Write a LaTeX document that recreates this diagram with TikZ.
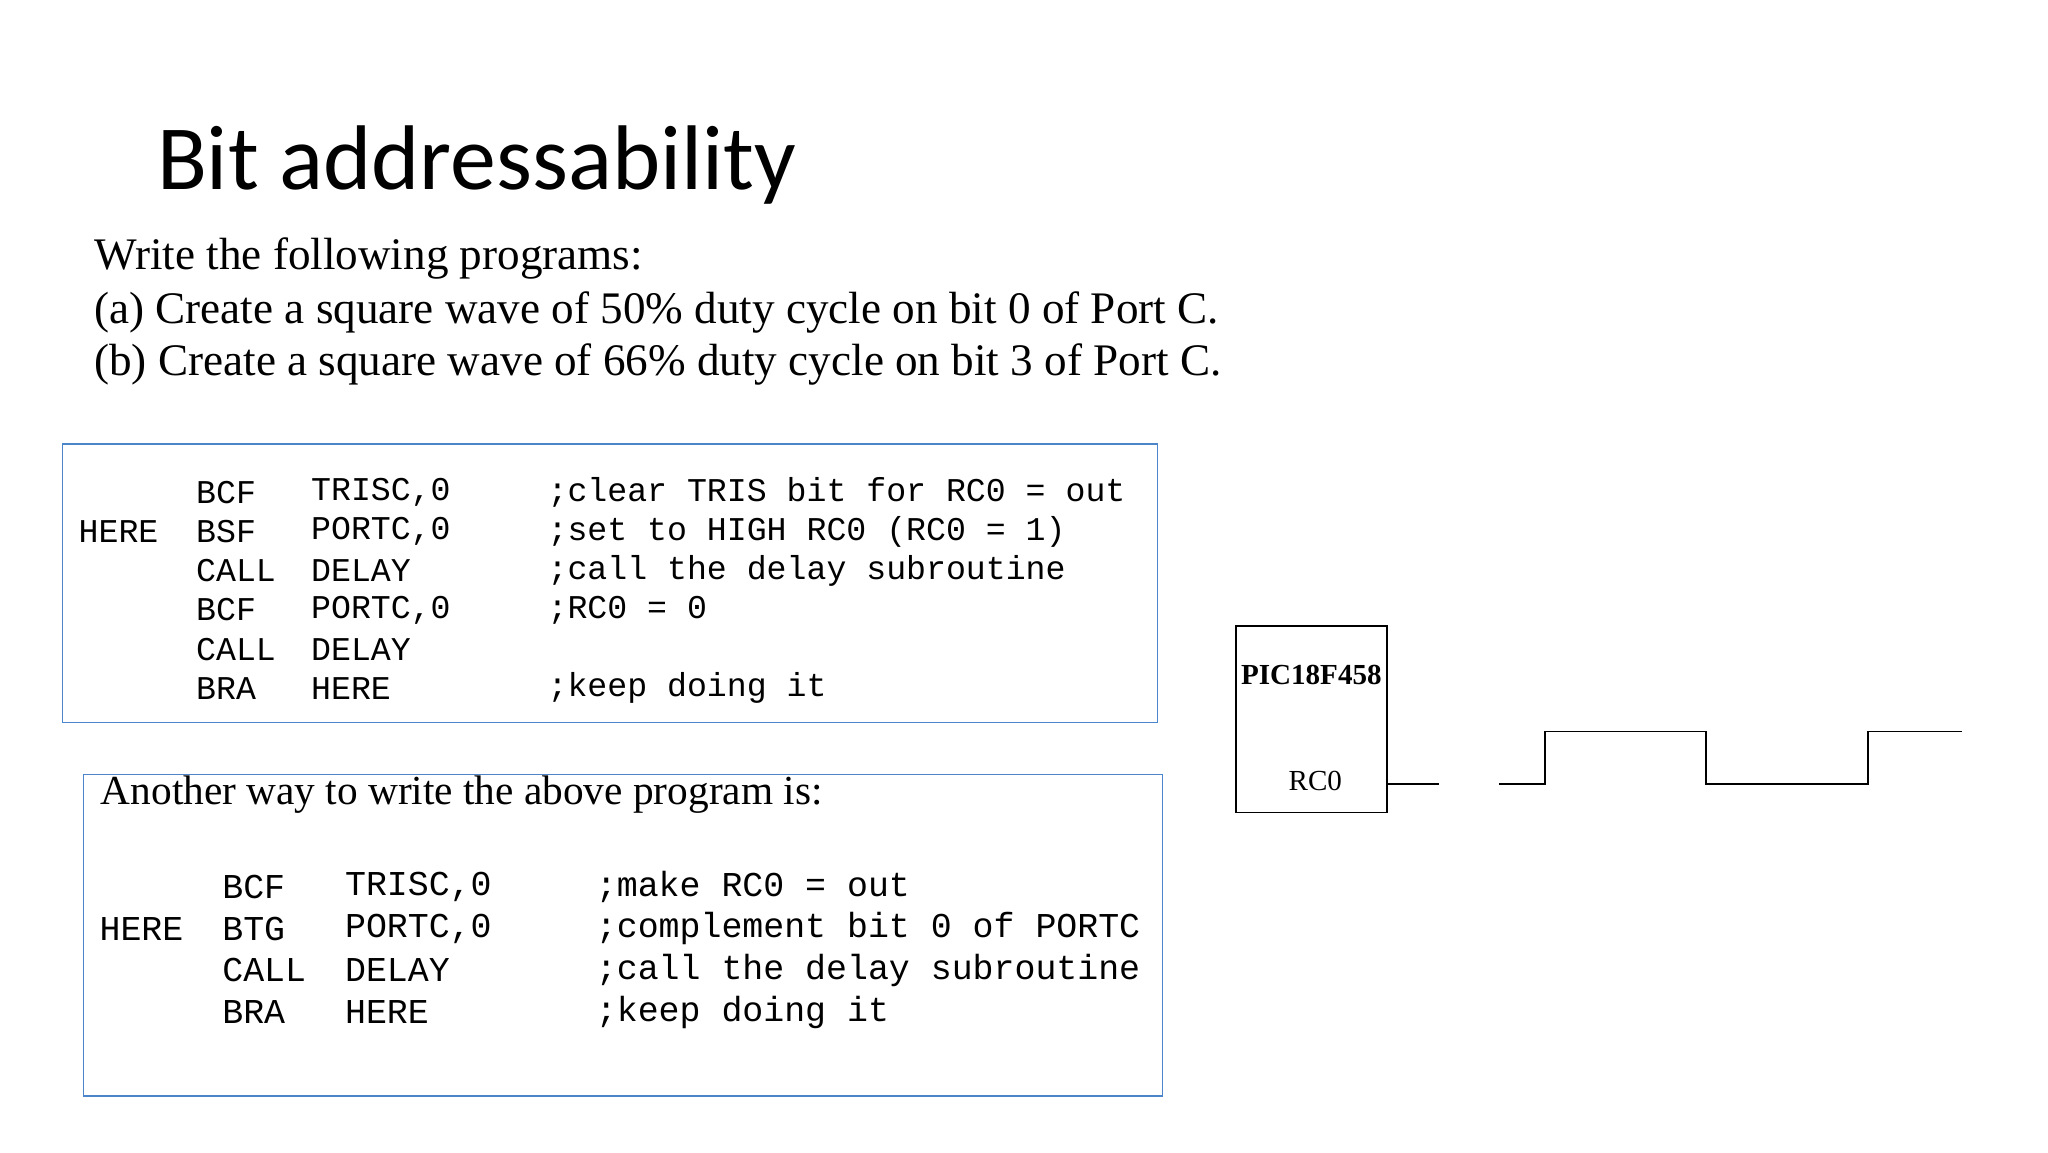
\documentclass[tikz,border=0pt]{standalone}
\usepackage{fontspec}
\setmainfont{Liberation Serif}
\newfontfamily\titlefont{Carlito}
\newfontfamily\codefont{Liberation Mono}
\begin{document}
\begin{tikzpicture}[x=0.03cm,y=-0.03cm,
  ttl/.style={anchor=west,inner sep=0,font=\titlefont\fontsize{60}{70}\selectfont},
  txt/.style={anchor=west,inner sep=0,font=\fontsize{29.5}{34}\selectfont},
  ca/.style={anchor=west,inner sep=0,font=\codefont\fontsize{21.7}{24}\selectfont},
  cb/.style={anchor=west,inner sep=0,font=\codefont\fontsize{22.8}{26}\selectfont},
  frame/.style={draw=blue!55!cyan!70!black!70,line width=0.9pt}]
\useasboundingbox (0,0) rectangle (1568,882);
\node[ttl] (title) at (120,126) {Bit addressability};
\node[txt] (l1) at (72,198) {Write the following programs:};
\node[txt] (l2) at (72,239) {(a) Create a square wave of 50\% duty cycle on bit 0 of Port C.};
\node[txt] (l3) at (72,279) {(b) Create a square wave of 66\% duty cycle on bit 3 of Port C.};
% box 1
\draw[frame] (48,340) rectangle (886,553);
\foreach \y/\a/\b/\c/\d in {377/{}/BCF/{TRISC,0}/{;clear TRIS bit for RC0 = out},
  407/HERE/BSF/{PORTC,0}/{;set to HIGH RC0 (RC0 = 1)},
  437/{}/CALL/DELAY/{;call the delay subroutine},
  467/{}/BCF/{PORTC,0}/{;RC0 = 0},
  497/{}/CALL/DELAY/{},
  527/{}/BRA/HERE/{;keep doing it}}{
  \node[ca] at (60,\y) {\a};
  \node[ca] at (150,\y) {\b};
  \node[ca] at (238,\y) {\c};
  \node[ca] at (419,\y) {\d};
}
% box 2
\draw[frame] (64,593) rectangle (890,839);
\node[txt,font=\fontsize{27}{31}\selectfont] (l4) at (77,608) {Another way to write the above program is:};
\foreach \y/\a/\b/\c/\d in {679/{}/BCF/{TRISC,0}/{;make RC0 = out},
  711/HERE/BTG/{PORTC,0}/{;complement bit 0 of PORTC},
  743/{}/CALL/DELAY/{;call the delay subroutine},
  775/{}/BRA/HERE/{;keep doing it}}{
  \node[cb] at (76,\y) {\a};
  \node[cb] at (170,\y) {\b};
  \node[cb] at (264,\y) {\c};
  \node[cb] at (456,\y) {\d};
}
% PIC
\node[draw,line width=1.2pt,minimum width=116*0.03cm,minimum height=143*0.03cm,inner sep=0] (pic) at (1004,550.5) {};
\node[font=\bfseries\fontsize{19}{22}\selectfont,inner sep=0] (pn) at (1004,517) {PIC18F458};
\node[font=\fontsize{19}{22}\selectfont,inner sep=0] (rc) at (1007,598) {RC0};
\coordinate (p0) at (1062,600);
\coordinate (p1) at (1102,600);
\draw[line width=1.1pt] (p0) -- (p1);
\coordinate (w0) at (1148,600);
\draw[line width=1.1pt] (w0) -- (1183,600) -- (1183,560) -- (1306,560) -- (1306,600) -- (1430,600) -- (1430,560) -- (1502,560);
\end{tikzpicture}
\end{document}
